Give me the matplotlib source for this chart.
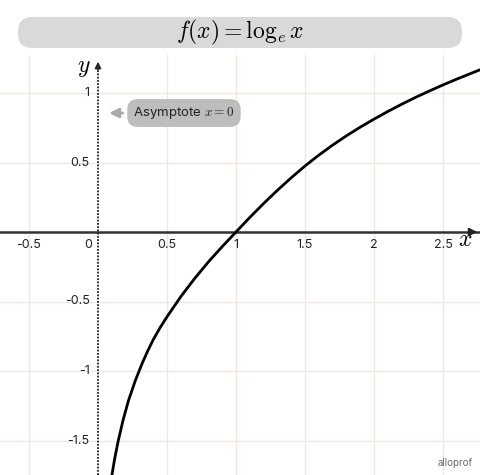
import numpy as np
import matplotlib.pyplot as plt
from matplotlib.patches import FancyBboxPatch

plt.rcParams['mathtext.fontset'] = 'cm'
plt.rcParams['font.family'] = ['Inter', 'DejaVu Sans']

x_ticks = [-0.5, 0, 0.5, 1, 1.5, 2, 2.5]
x_labels = ["-0.5", "0", "0.5", "1", "1.5", "2", "2.5"]
y_ticks = [-1.5, -1, -0.5, 0.5, 1]
y_labels = ["-1.5", "-1", "-0.5", "0.5", "1"]
curve_x = [0.094, 0.12, 0.145, 0.18, 0.22, 0.27, 0.32, 0.36, 0.4, 0.45, 0.5, 0.6, 0.7, 0.8, 0.9, 1.0,
           1.1, 1.2, 1.3, 1.4, 1.5, 1.6, 1.7, 1.8, 1.9, 2.0, 2.1, 2.2, 2.3, 2.4, 2.5,
           2.6, 2.7, 2.77]
curve_y = [-1.79, -1.635, -1.51, -1.36, -1.215, -1.07, -0.945, -0.856, -0.775, -0.688, -0.61,
           -0.465, -0.335, -0.215, -0.105, 0.0, 0.105, 0.205, 0.30, 0.39, 0.475, 0.553, 0.625,
           0.692, 0.754, 0.812, 0.867, 0.919, 0.968, 1.014, 1.058, 1.1, 1.14, 1.168]
title = r"$f(x)=\log_e x$"

fig = plt.figure(figsize=(4.8, 4.75), dpi=100)
ax = fig.add_axes([0, 0, 1, 420/475])
xmin, xmax = -98/138, 382/138
ymin, ymax = -243/139, 177/139
ax.set_xlim(xmin, xmax); ax.set_ylim(ymin, ymax)
for s in ax.spines.values(): s.set_visible(False)
ax.set_xticks([]); ax.set_yticks([])
gc = '#ede7dd'
for g in [-0.5, 0.5, 1, 1.5, 2, 2.5]:
    ax.axvline(g, color=gc, lw=0.9, zorder=0)
for g in [-1.5, -1, -0.5, 0.5, 1]:
    ax.axhline(g, color=gc, lw=0.9, zorder=0)
ax.plot([xmin, 2.82], [0, 0], color='#333333', lw=1.8, zorder=1)
ax.annotate('', xy=(xmax, 0), xytext=(2.7, 0),
            arrowprops=dict(arrowstyle='-|>', color='#222222', lw=1.5, mutation_scale=11))
ax.plot([0, 0], [ymin, 1.2], color='#222222', lw=1.3, ls=(0, (1, 0.8)), zorder=2)
ax.annotate('', xy=(0, 1.245), xytext=(0, 1.15),
            arrowprops=dict(arrowstyle='-|>', color='#222222', lw=1.2, mutation_scale=9))
ax.plot(curve_x, curve_y, color='black', lw=2, zorder=3, solid_joinstyle='round')
for t, l in zip(x_ticks, x_labels):
    ax.text(t - (0.07 if t == 0 else 0), -0.05, l, ha='center', va='top', fontsize=9, color='#222222')
for t, l in zip(y_ticks, y_labels):
    ax.text(-0.06, t, l, ha='right', va='center', fontsize=9, color='#222222')
ax.text(2.66, -0.06, r'$x$', fontsize=17, ha='center', va='center')
ax.text(-0.1, 1.18, r'$y$', fontsize=17, ha='center', va='center')
ax.annotate('', xy=(0.06, 0.856), xytext=(0.2, 0.856),
            arrowprops=dict(arrowstyle='-|>', color='#aaaaaa', lw=2, mutation_scale=14))
ax.text(0.255, 0.856, r'Asymptote $x = 0$', fontsize=9.5, va='center', ha='left', color='#222222',
        bbox=dict(boxstyle='round,pad=0.45,rounding_size=0.8', fc='#bdbdbd', ec='none'))
box = FancyBboxPatch((18/480, 1 - 48/475), 444/480, 31/475, transform=fig.transFigure,
                     boxstyle='round,pad=0,rounding_size=0.03', fc='#d9d9d9', ec='none')
fig.patches.append(box)
fig.text(0.5, 1 - 32/475, title, ha='center', va='center', fontsize=17)
ax.text(xmax - 0.05, ymin + 0.05, 'alloprof', fontsize=7, color='#666666', ha='right', va='bottom')
fig.savefig('out.png', dpi=100)
